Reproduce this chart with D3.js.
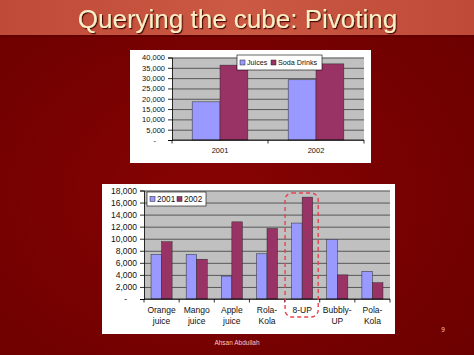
<!DOCTYPE html>
<html><head><meta charset="utf-8">
<script src="https://cdn.jsdelivr.net/npm/d3@7"></script>
<style>body{margin:0;background:#760000;overflow:hidden}svg{display:block}</style>
</head><body>
<script>
// ---- data ----
const titleText = "Querying the cube: Pivoting";
const topCategories = ["2001", "2002"];
const topSeries = ["Juices", "Soda Drinks"];
const juicesValues = [18500, 29200];
const sodaValues = [36300, 36900];
const topTicks = [0, 5000, 10000, 15000, 20000, 25000, 30000, 35000, 40000];

const products = [["Orange","juice"],["Mango","juice"],["Apple","juice"],["Rola-","Kola"],["8-UP"],["Bubbly-","UP"],["Pola-","Kola"]];
const bottomSeries = ["2001", "2002"];
const values2001 = [7400, 7400, 3800, 7500, 12600, 9900, 4600];
const values2002 = [9500, 6600, 12800, 11700, 16900, 4000, 2700];
const bottomTicks = [0, 2000, 4000, 6000, 8000, 10000, 12000, 14000, 16000, 18000];
const highlighted = "8-UP";
const footer = "Ahsan Abdullah";
const pageNumber = "9";

// ---- drawing ----
const W = 474, H = 355;
const FONT = "'Liberation Sans', Arial, sans-serif";
const c1 = "#9999ff", c2 = "#993366";
const svg = d3.select("body").append("svg").attr("width", W).attr("height", H);
const defs = svg.append("defs");
const rg = defs.append("radialGradient").attr("id","bg").attr("cx","45%").attr("cy","55%").attr("r","70%");
rg.append("stop").attr("offset","0%").attr("stop-color","#880303");
rg.append("stop").attr("offset","100%").attr("stop-color","#6c0000");
const tg = defs.append("linearGradient").attr("id","tb").attr("x1","0").attr("x2","1");
tg.append("stop").attr("offset","0%").attr("stop-color","#bf4a38");
tg.append("stop").attr("offset","50%").attr("stop-color","#cb5943");
tg.append("stop").attr("offset","100%").attr("stop-color","#bf4a38");
const sh = defs.append("filter").attr("id","sh").attr("x","-5%").attr("y","-20%").attr("width","110%").attr("height","140%");
sh.append("feDropShadow").attr("dx",1.2).attr("dy",1.2).attr("stdDeviation",0.6).attr("flood-color","#3a0000").attr("flood-opacity",0.9);

svg.append("rect").attr("width",W).attr("height",H).attr("fill","url(#bg)");
svg.append("rect").attr("width",W).attr("height",35).attr("fill","url(#tb)");
svg.append("rect").attr("y",35).attr("width",W).attr("height",2).attr("fill","#5a0000").attr("opacity",0.6);
svg.append("text").attr("x",237.5).attr("y",28).attr("text-anchor","middle")
  .attr("font-family",FONT).attr("font-size",26).attr("fill","#fbefc6")
  .attr("filter","url(#sh)").text(titleText);

svg.append("text").attr("x",237).attr("y",345).attr("text-anchor","middle")
  .attr("font-family",FONT).attr("font-size",6.5).attr("fill","#f2c9c9").text(footer);
svg.append("text").attr("x",443).attr("y",332).attr("text-anchor","middle")
  .attr("font-family",FONT).attr("font-size",6.5).attr("fill","#f2c9c9").text(pageNumber);

function fmt(d){ return d === 0 ? "-" : d3.format(",")(d); }

function chart(opt){
  const g = svg.append("g");
  g.append("rect").attr("x",opt.box[0]).attr("y",opt.box[1]).attr("width",opt.box[2]-opt.box[0]).attr("height",opt.box[3]-opt.box[1]).attr("fill","#fff");
  const [x0,y0,x1,y1] = opt.plot;
  const x = d3.scaleBand().domain(d3.range(opt.n)).range([x0,x1]).paddingInner(opt.pad).paddingOuter(opt.pad/2);
  const y = d3.scaleLinear().domain([0, d3.max(opt.ticks)]).range([y1,y0]);
  g.append("rect").attr("x",x0).attr("y",y0).attr("width",x1-x0).attr("height",y1-y0).attr("fill","#c0c0c0");
  // gridlines
  const grid = g.append("g").attr("transform",`translate(${x0},0)`)
    .call(d3.axisLeft(y).tickValues(opt.ticks).tickSize(-(x1-x0)).tickFormat(""));
  grid.select(".domain").remove();
  grid.selectAll("line").attr("stroke","#3c3c3c").attr("stroke-width",0.8);
  // bars
  const sub = d3.scaleBand().domain([0,1]).range([0,x.bandwidth()]);
  opt.series.forEach((vals,si)=>{
    g.append("g").selectAll("rect").data(vals).join("rect")
      .attr("x",(d,i)=>x(i)+sub(si)).attr("y",d=>y(d))
      .attr("width",sub.bandwidth()).attr("height",d=>y(0)-y(d))
      .attr("fill",opt.colors[si]).attr("stroke","#2a2a2a").attr("stroke-width",0.5);
  });
  // y axis
  const ya = g.append("g").attr("transform",`translate(${x0},0)`)
    .call(d3.axisLeft(y).tickValues(opt.ticks).tickSize(4).tickPadding(3).tickFormat(fmt));
  ya.select(".domain").attr("stroke","#000").attr("stroke-width",0.8);
  ya.selectAll("line").attr("stroke","#000").attr("stroke-width",0.8);
  ya.selectAll("text").attr("font-family",FONT).attr("font-size",opt.fs).attr("fill","#111")
    .attr("dx",d=>d===0?-opt.dashOff:0);
  // x axis
  g.append("line").attr("x1",x0).attr("x2",x1).attr("y1",y1).attr("y2",y1).attr("stroke","#000").attr("stroke-width",0.8);
  const step = (x1-x0)/opt.n;
  g.append("g").selectAll("line").data(d3.range(opt.n+1)).join("line")
    .attr("x1",i=>x0+i*step).attr("x2",i=>x0+i*step).attr("y1",y1).attr("y2",y1+3.5)
    .attr("stroke","#000").attr("stroke-width",0.8);
  g.append("g").selectAll("text").data(opt.labels).join("text")
    .attr("x",(d,i)=>x(i)+x.bandwidth()/2).attr("y",opt.labelY)
    .attr("text-anchor","middle").attr("font-family",FONT).attr("font-size",opt.fs).attr("fill","#111")
    .each(function(d){
      const t = d3.select(this);
      (Array.isArray(d)?d:[d]).forEach((line,k)=>t.append("tspan").attr("x",t.attr("x")).attr("dy",k?opt.lh:0).text(line));
    });
  // legend
  const L = opt.legend;
  const lg = g.append("g");
  lg.append("rect").attr("x",L.x).attr("y",L.y).attr("width",L.w).attr("height",L.h).attr("fill","#fff").attr("stroke","#000").attr("stroke-width",0.6);
  opt.names.forEach((nm,i)=>{
    lg.append("rect").attr("x",L.sx[i]).attr("y",L.y+L.h/2-2.5).attr("width",5).attr("height",5)
      .attr("fill",opt.colors[i]).attr("stroke","#222").attr("stroke-width",0.5);
    lg.append("text").attr("x",L.sx[i]+7).attr("y",L.y+L.h/2+L.fs*0.36)
      .attr("font-family",FONT).attr("font-size",L.fs).attr("fill","#111").text(nm);
  });
  return {x,y,g};
}

chart({
  box:[130,50,371,163], plot:[172,57.5,364,140], n:2, pad:0.42,
  ticks:topTicks, series:[juicesValues,sodaValues], colors:[c1,c2],
  labels:topCategories, labelY:153, lh:10, fs:7.5, dashOff:9,
  names:topSeries, legend:{x:237,y:55,w:85,h:15,sx:[240,271],fs:7.2}
});

const b = chart({
  box:[102,184,395,334], plot:[144,190.5,390,299], n:7, pad:0.4,
  ticks:bottomTicks, series:[values2001,values2002], colors:[c1,c2],
  labels:products, labelY:313, lh:11, fs:8.5, dashOff:10,
  names:bottomSeries, legend:{x:147,y:192,w:59,h:14,sx:[150,177],fs:8.2}
});

// highlight around 8-UP
const hi = products.findIndex(p=>p[0]===highlighted);
const st = b.x.step();
const cx = b.x(hi) + b.x.bandwidth()/2;
b.g.append("rect").attr("x",cx-st/2+0.5).attr("y",193).attr("width",st-2).attr("height",124)
  .attr("rx",7).attr("ry",7).attr("fill","none").attr("stroke","#e8424f").attr("stroke-width",1.4)
  .attr("stroke-dasharray","4,3");
</script>
</body></html>
